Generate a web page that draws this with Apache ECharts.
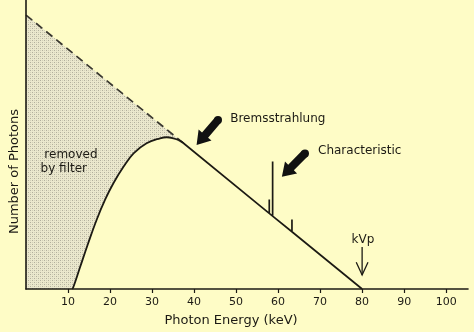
<!DOCTYPE html>
<html><head><meta charset="utf-8">
<script src="https://cdn.jsdelivr.net/npm/echarts@6/dist/echarts.min.js"></script>
<style>html,body{margin:0;padding:0;background:#fefcc6}#c{width:474px;height:332px}</style>
</head><body><div id="c"></div>
<script>
// ---- data ----
const xTicks = [10, 20, 30, 40, 50, 60, 70, 80, 90, 100];
// unfiltered (theoretical) bremsstrahlung spectrum, dashed
const unfilteredEnergy = [0, 37.5];
const unfilteredCount = [100, 53.2];
// filtered spectrum, low-energy rounded part
const curveEnergy = [11.0, 11.3, 12.9, 14.8, 16.8, 18.8, 20.8, 23.2, 25.6, 28.7, 31.9, 33.5, 35.1, 36.4, 37.5];
const curveCount  = [0, 0.8, 8.1, 16.7, 25.2, 32.5, 38.6, 44.6, 49.5, 53.2, 55.0, 55.4, 55.0, 54.3, 53.2];
// filtered spectrum, straight part with characteristic lines
const tailEnergy = [36.4, 37.5, 57.9, 57.9, 57.9, 58.7, 58.7, 58.7, 63.3, 63.3, 63.3, 80];
const tailCount  = [54.3, 53.2, 27.6, 32.7, 27.6, 26.6, 46.5, 26.6, 20.9, 25.4, 20.9, 0];

const BG = '#fefcc6', INK = '#1c1a14';
const FONT = 'DejaVu Sans';

function pairs(xs, ys) { return xs.map((x, i) => [x, ys[i]]); }

// stipple pattern for the "removed by filter" region
const pat = document.createElement('canvas');
pat.width = 4; pat.height = 4;
const pc = pat.getContext('2d');
pc.fillStyle = '#ebe8cd'; pc.fillRect(0, 0, 4, 4);
pc.fillStyle = '#b2af9c'; pc.fillRect(0, 0, 1, 1); pc.fillRect(2, 2, 1, 1);
pc.fillStyle = '#d3d0b8'; pc.fillRect(2, 0, 1, 1); pc.fillRect(0, 2, 1, 1);

const chart = echarts.init(document.getElementById('c'), null, {renderer: 'canvas'});
chart.setOption({
  backgroundColor: BG,
  animation: false,
  grid: {left: 26, right: 6, top: 0, bottom: 43},
  xAxis: {
    type: 'value', min: 0, max: 105.2, z: 10,
    name: 'Photon Energy (keV)', nameLocation: 'middle', nameGap: 25,
    nameTextStyle: {fontFamily: FONT, fontSize: 13, color: INK, padding: [0, 32, 0, 0]},
    axisLine: {lineStyle: {color: INK, width: 1.6}},
    axisTick: {show: true, inside: false, length: 4, customValues: xTicks, lineStyle: {color: INK, width: 1.2}},
    axisLabel: {customValues: xTicks, margin: 8, fontFamily: FONT, fontSize: 11, color: INK},
    splitLine: {show: false}
  },
  yAxis: {
    type: 'value', min: 0, max: 105.5, z: 10,
    name: 'Number of Photons', nameLocation: 'middle', nameGap: 5,
    nameTextStyle: {fontFamily: FONT, fontSize: 13, color: INK, padding: [0, 54, 0, 0]},
    axisLine: {show: true, lineStyle: {color: INK, width: 1.6}},
    axisTick: {show: false}, axisLabel: {show: false}, splitLine: {show: false}
  },
  series: [
    {
      name: 'Unfiltered', type: 'line', z: 2, symbol: 'none',
      data: pairs(unfilteredEnergy, unfilteredCount),
      lineStyle: {color: '#3a3830', width: 1.7, type: [8, 5]},
      areaStyle: {color: {image: pat, repeat: 'repeat'}, opacity: 1}
    },
    {
      name: 'Filtered', type: 'line', z: 3, symbol: 'none', smooth: 0.4,
      data: pairs(curveEnergy, curveCount),
      lineStyle: {color: INK, width: 1.8},
      areaStyle: {color: BG, opacity: 1}
    },
    {
      name: 'Filtered tail', type: 'line', z: 4, symbol: 'none',
      data: pairs(tailEnergy, tailCount),
      lineStyle: {color: INK, width: 1.7},
      areaStyle: {color: BG, opacity: 1}
    }
  ]
});

function P(e, v) { return chart.convertToPixel({gridIndex: 0}, [e, v]); }

function bigArrow(tail, tip, headLen, headHalf, shaftHalf) {
  const T = P(tail[0], tail[1]), H = P(tip[0], tip[1]);
  const dx = H[0] - T[0], dy = H[1] - T[1], L = Math.hypot(dx, dy);
  const ux = dx / L, uy = dy / L, nx = -uy, ny = ux;
  const B = [H[0] - ux * headLen, H[1] - uy * headLen];
  const pts = [
    H,
    [B[0] + nx * headHalf, B[1] + ny * headHalf],
    [B[0] + nx * shaftHalf, B[1] + ny * shaftHalf],
    [T[0] + nx * shaftHalf, T[1] + ny * shaftHalf],
    [T[0] - nx * shaftHalf, T[1] - ny * shaftHalf],
    [B[0] - nx * shaftHalf, B[1] - ny * shaftHalf],
    [B[0] - nx * headHalf, B[1] - ny * headHalf]
  ];
  return [
    {type: 'polygon', z: 20, shape: {points: pts}, style: {fill: '#111'}},
    {type: 'circle', z: 20, shape: {cx: T[0], cy: T[1], r: shaftHalf}, style: {fill: '#111'}}
  ];
}

function label(text, e, v, align, size) {
  const p = P(e, v);
  return {type: 'text', z: 20, x: p[0], y: p[1],
    style: {text: text, fill: INK, font: (size || 12) + 'px "' + FONT + '"', align: align || 'left', verticalAlign: 'middle'}};
}

const k1 = P(80, 15.3), k2 = P(80, 5.1);
const graphics = [].concat(
  bigArrow([45.7, 61.7], [40.6, 52.6], 13, 8.5, 4),
  bigArrow([66.4, 49.5], [60.9, 41.0], 13, 8.5, 4),
  [
    {type: 'line', z: 20, shape: {x1: k1[0], y1: k1[1], x2: k2[0], y2: k2[1]}, style: {stroke: INK, lineWidth: 1.3}},
    {type: 'polyline', z: 20, shape: {points: [P(78.6, 9.8), k2, P(81.4, 9.8)]}, style: {stroke: INK, lineWidth: 1.3, fill: null}},
    label('Bremsstrahlung', 48.6, 62, 'left'),
    label('Characteristic', 69.5, 50.4, 'left'),
    label('removed', 10.7, 48.9, 'center'),
    label('by filter', 9.0, 43.8, 'center'),
    label('kVp', 80.2, 18.1, 'center')
  ]
);
chart.setOption({graphic: graphics});
</script>
</body></html>
